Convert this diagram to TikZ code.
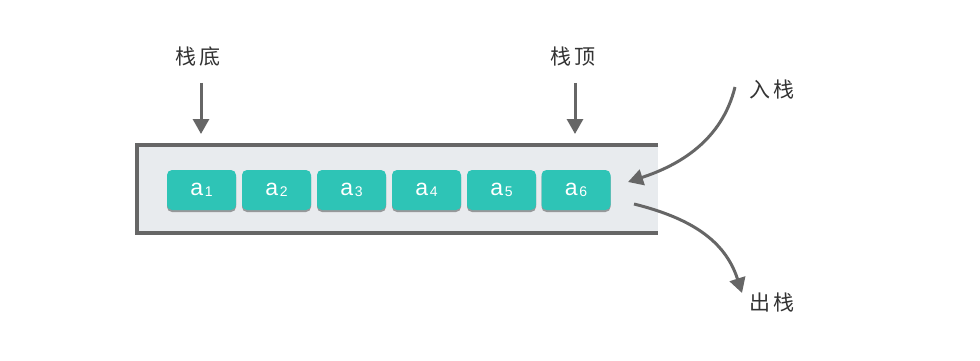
\documentclass[tikz,border=0pt]{standalone}
\usepackage{fontspec}
\setmainfont{Liberation Sans}
\newfontfamily\cjk{Noto Sans CJK SC}
\usetikzlibrary{arrows.meta,shadows}
\definecolor{teal}{HTML}{2EC4B6}
\definecolor{stackbg}{HTML}{E8EBEE}
\definecolor{edge}{HTML}{666666}
\definecolor{txt}{HTML}{333333}
\tikzset{
  elem/.style={fill=teal, rounded corners=5pt, minimum width=69pt, minimum height=40pt, inner sep=0pt,
    text=white, font=\fontsize{23}{24}\selectfont,
    drop shadow={shadow xshift=0pt, shadow yshift=-2pt, fill=black, opacity=0.35}},
  lbl/.style={font=\cjk\fontsize{21}{24}\selectfont, text=txt, inner sep=0pt},
  arr/.style={draw=edge, line width=3pt, -{Triangle[length=15pt,width=16pt]}},
}
\newcommand{\sbx}[1]{\raisebox{-1pt}{\fontsize{14}{16}\selectfont #1}}
\begin{document}
\begin{tikzpicture}[x=1pt,y=-1pt]
\useasboundingbox (0,0) rectangle (980,361);
\fill[white] (0,0) rectangle (980,361);
% stack container
\fill[stackbg] (137,145) rectangle (658,233);
\draw[edge, line width=4pt] (658,145) -- (137,145) -- (137,233) -- (658,233);
% elements
\foreach \i/\x in {1/201.5,2/276.5,3/351.5,4/426.5,5/501.5,6/576}{
  \node[elem] (e\i) at (\x,190) {a\hspace{1.5pt}\sbx{\i}};
}
% labels
\node[lbl] (bot) at (198,57) {栈\hspace{3pt}底};
\node[lbl] (top) at (573,57) {栈\hspace{3pt}顶};
\node[lbl] (push) at (772,90) {入\hspace{3pt}栈};
\node[lbl] (pop) at (772,303) {出\hspace{3pt}栈};
\coordinate (botend) at (201,134);
\coordinate (topend) at (575,134);
\coordinate (pushstart) at (735,87);
\coordinate (pushend) at (628,182);
\coordinate (popstart) at (634,204);
\coordinate (popend) at (742,293);
\draw[arr] (201,83) -- (botend);
\draw[arr] (575,83) -- (topend);
\draw[arr] (pushstart) .. controls (722,140) and (680,165) .. (pushend);
\draw[arr] (popstart) .. controls (690,218) and (725,240) .. (popend);
\end{tikzpicture}
\end{document}
